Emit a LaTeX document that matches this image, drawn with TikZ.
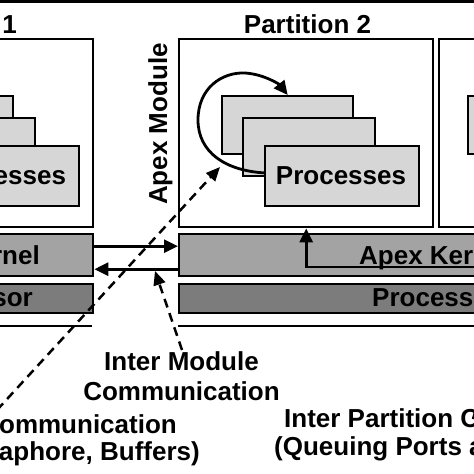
\documentclass[tikz,border=0pt]{standalone}
\usepackage{fontspec}
\setmainfont{Liberation Sans}
\usetikzlibrary{arrows.meta}
\definecolor{procgray}{HTML}{D6D6D6}
\definecolor{kerngray}{HTML}{A3A3A3}
\definecolor{cpugray}{HTML}{7C7C7C}
\begin{document}
\begin{tikzpicture}[x=1pt,y=-1pt,
  box/.style={draw, line width=2.4pt, inner sep=0pt, anchor=north west},
  part/.style={box, fill=white},
  proc/.style={box, fill=procgray},
  kern/.style={box, fill=kerngray},
  cpu/.style={box, fill=cpugray},
  lbl/.style={font=\bfseries\fontsize{26}{30}\selectfont, inner sep=0pt},
  solidarrow/.style={line width=2.8pt, -{Triangle[length=14pt,width=13pt]}},
  dasharrow/.style={line width=2.5pt, dash pattern=on 9pt off 6pt, -{Triangle[length=14pt,width=12pt]}},
  frameline/.style={line width=2.6pt}]
\useasboundingbox (0,0) rectangle (474,474);
\clip (0,0) rectangle (474,474);
\fill[white] (0,0) rectangle (474,474);

% frame lines
\draw[line width=3.2pt] (0,1.5) -- (474,1.5);
\draw[frameline] (-10,326) -- (92,326);
\draw[frameline] (178,326) -- (484,326);

% partitions
\node[part, minimum width=254pt, minimum height=188pt] (p1) at (-162,38) {};
\node[part, minimum width=254pt, minimum height=188pt] (p2) at (178,38) {};
\node[part, minimum width=254pt, minimum height=188pt] (p3) at (438,38) {};

% partition 1 processes
\node[proc, minimum width=131pt, minimum height=58pt] (pb1) at (-119,95) {};
\node[proc, minimum width=132pt, minimum height=58pt] (pm1) at (-98,117) {};
\node[proc, minimum width=154pt, minimum height=60pt] (pf1) at (-76,145) {};
\node[lbl, anchor=base] (pt1) at (1,184) {Processes};

% partition 2 processes
\node[proc, minimum width=131pt, minimum height=58pt] (pb2) at (221,95) {};
\node[proc, minimum width=132pt, minimum height=58pt] (pm2) at (242,117) {};
\draw[line width=2.8pt, -{Triangle[length=14pt,width=13pt]}]
  ([yshift=2pt,xshift=2pt]264,175) .. controls (225,171) and (198,152) .. (198,120)
  .. controls (198,88) and (222,72) .. (245,73)
  .. controls (263,74) and (279,84) .. (pb2.north);
\node[proc, minimum width=154pt, minimum height=60pt] (pf2) at (264,145) {};
\node[lbl, anchor=base] (pt2) at (341,184) {Processes};

% partition 3 process
\node[proc, minimum width=131pt, minimum height=58pt] (pb3) at (467,95) {};

% titles
\node[lbl, anchor=base east] (t1) at (17,33) {Partition 1};
\node[lbl, anchor=base] (t2) at (307.5,33) {Partition 2};
\node[lbl, rotate=90, anchor=base] (apex) at (167,124) {Apex Module};

% kernels and processors
\node[kern, minimum width=292pt, minimum height=42pt] (k1) at (-200,233) {};
\node[kern, minimum width=400pt, minimum height=42pt] (k2) at (178,233) {};
\node[cpu, minimum width=292pt, minimum height=29pt] (c1) at (-200,283) {};
\node[cpu, minimum width=400pt, minimum height=29pt] (c2) at (178,283) {};
\node[lbl, anchor=base east] (kt1) at (40,264) {Apex Kernel};
\node[lbl, anchor=base west] (kt2) at (359,264) {Apex Kernel};
\node[lbl, anchor=base east] (ct1) at (33,306) {Processor};
\node[lbl, anchor=base west] (ct2) at (372,306) {Processor};

% inter module arrows
\draw[solidarrow] ([yshift=9pt]k1.east) -- ([yshift=9pt]k2.west);
\draw[solidarrow] ([yshift=-14pt]k2.west) -- ([yshift=-14pt]k1.east);

% kernel arrow
\coordinate (kstart) at (490,267);
\draw[solidarrow] (kstart) -| (p2.south);

% labels
\node[lbl, anchor=base] (im1) at (181.5,370) {Inter Module};
\node[lbl, anchor=base] (im2) at (181.5,400) {Communication};
\node[lbl, anchor=base east] (ia1) at (177,433) {Intra Partition Communication};
\node[lbl, anchor=base east] (ia2) at (200,460) {(Blackboard, Semaphore, Buffers)};
\node[lbl, anchor=base west] (ip1) at (284,427) {Inter Partition Communication};
\node[lbl, anchor=base west] (ip2) at (274,455) {(Queuing Ports and Sampling Ports)};

% dashed arrows
\coordinate (imstart) at (182,350);
\coordinate (imtip) at (155,271);
\draw[dasharrow] (imstart) -- (imtip);
\coordinate (iastart) at (-3,410);
\coordinate (iatip) at (220,167);
\draw[dasharrow] (iastart) -- (iatip);
\coordinate (ipstart) at (473,419);
\coordinate (iptip) at (500,330);
\draw[dasharrow, dash pattern=on 8pt off 6pt] (ipstart) -- (iptip);
\end{tikzpicture}
\end{document}
